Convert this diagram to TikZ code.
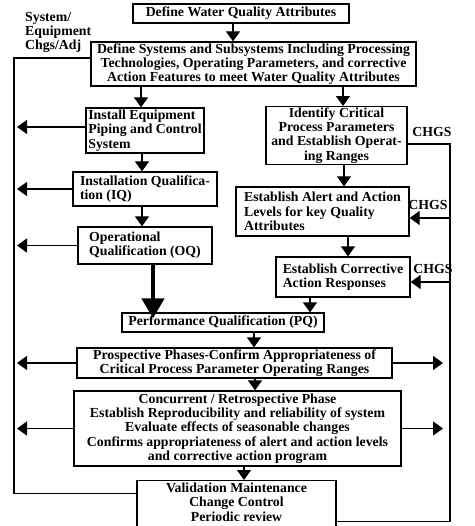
\documentclass[tikz,border=0pt]{standalone}
\usepackage{fontspec}
\setmainfont{Liberation Serif}
\usetikzlibrary{arrows.meta}

\begin{document}
\begin{tikzpicture}[
  x=1pt, y=-1pt,
  box/.style={draw, line width=1.3pt, align=center, inner sep=1pt,
    font=\bfseries\fontsize{13.8}{14.3}\selectfont},
  lbox/.style={box, align=left},
  note/.style={align=left, inner sep=0pt, font=\bfseries\fontsize{13.8}{14.3}\selectfont},
  line/.style={line width=1.3pt},
  arrow/.style={line, -{Triangle[width=14pt,length=10pt]}},
  bigarrow/.style={line width=4.5pt, -{Triangle[width=22pt,length=20pt]}}
]
\useasboundingbox (0,0) rectangle (474,526);

\node[box, minimum width=216, minimum height=19] (water) at (241,13.5)
  {Define Water Quality Attributes};
\node[box, minimum width=325, minimum height=44] (systems) at (253.5,64)
  {Define Systems and Subsystems Including Processing\\Technologies, Operating Parameters, and corrective\\Action Features to meet Water Quality Attributes};
\node[lbox, minimum width=118, minimum height=45] (install) at (145,130.5)
  {Install Equipment\\Piping and Control\\System};
\node[lbox, minimum width=144, minimum height=34] (iq) at (145,189)
  {Installation Qualifica-\\tion (IQ)};
\node[lbox, minimum width=134, minimum height=37] (oq) at (145,245.5)
  {Operational\\Qualification (OQ)};
\node[box, minimum width=141, minimum height=57] (identify) at (336.5,135.5)
  {Identify Critical\\Process Parameters\\and Establish Operat-\\ing Ranges};
\node[lbox, minimum width=173, minimum height=49] (alert) at (322.5,211.5)
  {Establish Alert and Action\\Levels for key Quality\\Attributes};
\node[lbox, minimum width=134, minimum height=40] (corrective) at (343,277)
  {Establish Corrective\\Action Responses};
\node[box, minimum width=202, minimum height=19] (pq) at (223,322.5)
  {Performance Qualification (PQ)};
\node[box, minimum width=315, minimum height=30] (prospective) at (234.5,363)
  {Prospective Phases-Confirm Appropriateness of\\Critical Process Parameter Operating Ranges};
\node[box, minimum width=327, minimum height=75] (concurrent) at (237.5,428.5)
  {Concurrent / Retrospective Phase\\Establish Reproducibility and reliability of system\\Evaluate effects of seasonable changes\\Confirms appropriateness of alert and action levels\\and corrective action program};
\node[box, anchor=north, minimum width=199, minimum height=51, text depth=8pt] (validation) at (236.5,480)
  {Validation Maintenance\\Change Control\\Periodic review};

\node[note, anchor=north west] (chgsadj) at (25,12) {System/\\Equipment\\Chgs/Adj};
\node[note] (chgs1) at (432,132) {CHGS};
\node[note] (chgs2) at (428,205) {CHGS};
\node[note] (chgs3) at (433,269) {CHGS};

\coordinate (railL) at (14,0);
\coordinate (railR) at (450,0);
\coordinate (outL) at (17,0);
\coordinate (outR) at (443,0);
\coordinate (vL) at ([yshift=13pt]validation.west);
\coordinate (vR) at ([yshift=-15pt]validation.west -| validation.east);

\draw[arrow] (233,0 |- water.south) -- (233,0 |- systems.north);
\draw[arrow] (141,0 |- systems.south) -- (141,0 |- install.north);
\draw[arrow] (343,0 |- systems.south) -- (343,0 |- identify.north);
\draw[arrow] (142,0 |- install.south) -- (142,0 |- iq.north);
\draw[arrow] (142,0 |- iq.south) -- (142,0 |- oq.north);
\draw[bigarrow] (153,0 |- oq.south) -- ([yshift=-6pt]153,0 |- pq.north);
\draw[arrow] (344,0 |- identify.south) -- (344,0 |- alert.north);
\draw[arrow] (348,0 |- alert.south) -- (348,0 |- corrective.north);
\draw[arrow] (310,0 |- corrective.south) -- (310,0 |- pq.north);
\draw[arrow] (254,0 |- pq.south) -- (254,0 |- prospective.north);
\draw[arrow] (255,0 |- prospective.south) -- (255,0 |- concurrent.north);
\draw[arrow] (244,0 |- concurrent.south) -- (244,0 |- validation.north);

\draw[arrow] ([yshift=3.5pt]install.west) -- ([yshift=3.5pt]install.west -| outL);
\draw[arrow] (iq) -- (iq -| outL);
\draw[arrow] (oq) -- (oq -| outL);
\draw[arrow] (prospective) -- (prospective -| outL);
\draw[arrow] (concurrent) -- (concurrent -| outL);
\draw[arrow] (prospective) -- (prospective -| outR);
\draw[arrow] (concurrent) -- (concurrent -| outR);

\draw[line] ([yshift=6pt]systems.west) -| (vL -| railL) -- (vL);
\draw[line] ([yshift=-8.5pt]identify.east) -| (vR -| railR) -- (vR);
\draw[arrow] ([yshift=-6.5pt]alert.east -| railR) -- ([yshift=-6.5pt]alert.east);
\draw[arrow] ([yshift=-5pt]corrective.east -| railR) -- ([yshift=-5pt]corrective.east);
\end{tikzpicture}
\end{document}
